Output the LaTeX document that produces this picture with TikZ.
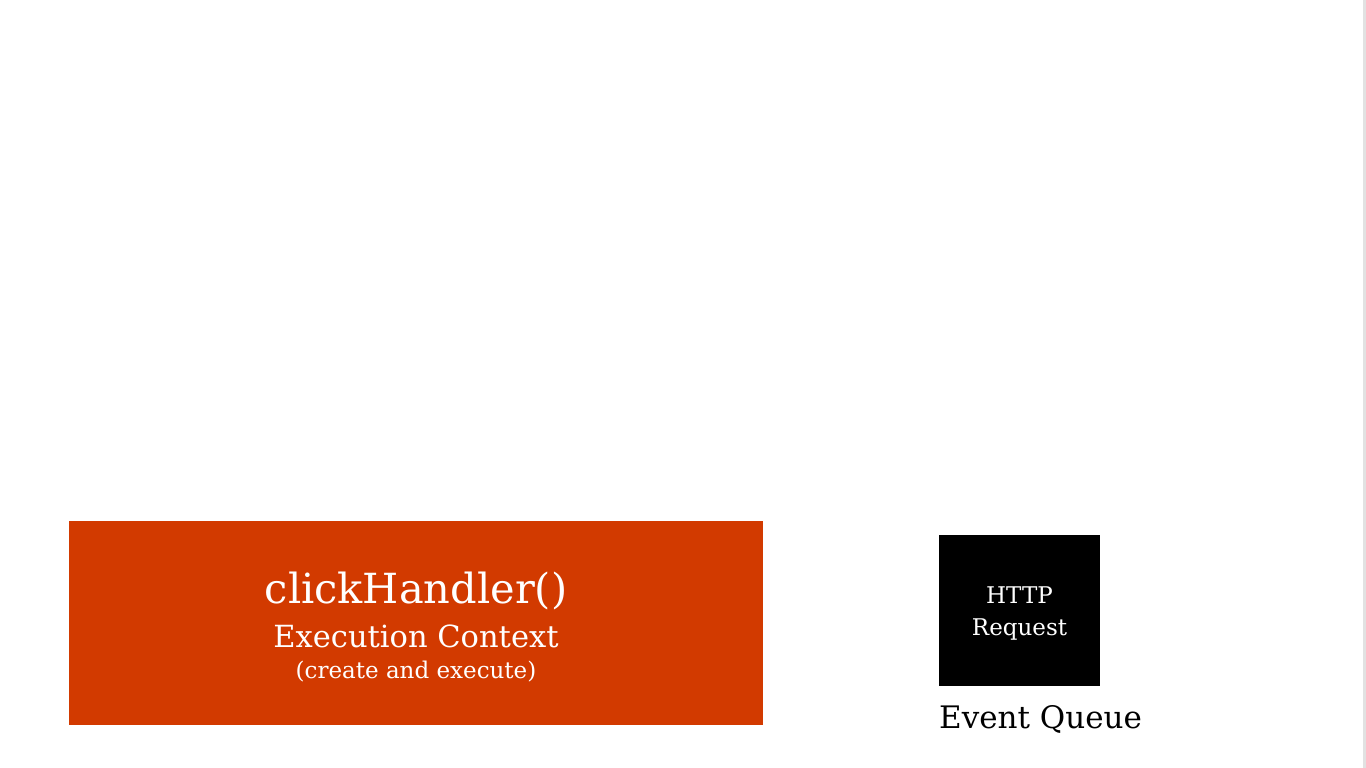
\documentclass[tikz,border=0pt]{standalone}
\usepackage{fontspec}
\setmainfont{DejaVu Serif}
\definecolor{ctxorange}{HTML}{D23A00}
\definecolor{edgegray}{HTML}{E2E2E2}
\tikzset{
  lbl/.style={anchor=base, inner sep=0pt, text=white},
  box/.style={draw=none, inner sep=0pt}
}
\begin{document}
\begin{tikzpicture}[x=1pt,y=-1pt]
\useasboundingbox (0,0) rectangle (1366,768);
\fill[white] (0,0) rectangle (1366,768);
\fill[edgegray] (1363,0) rectangle (1366,768);
% execution context box
\node[box, fill=ctxorange, minimum width=694pt, minimum height=204pt, anchor=north west] (ctx) at (69,521) {};
\node[lbl, font=\fontsize{41.5}{46}\selectfont] (title) at (416,603) {clickHandler()};
\node[lbl, font=\fontsize{30.5}{34}\selectfont] (sub) at (416,647) {Execution Context};
\node[lbl, font=\fontsize{23}{26}\selectfont] (note) at (416,678) {(create and execute)};
% event queue
\node[box, fill=black, minimum width=161pt, minimum height=151pt, anchor=north west] (http) at (939,535) {};
\node[lbl, font=\fontsize{23}{26}\selectfont] (h1) at (1019.5,603) {HTTP};
\node[lbl, font=\fontsize{23}{26}\selectfont] (h2) at (1019.5,635) {Request};
\node[anchor=base west, inner sep=0pt, font=\fontsize{31}{34}\selectfont] (eq) at (939,728) {Event Queue};
\end{tikzpicture}
\end{document}
